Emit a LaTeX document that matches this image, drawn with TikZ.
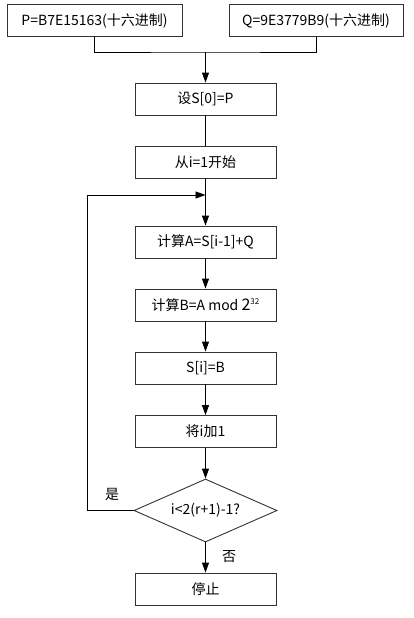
\documentclass[tikz,border=0pt]{standalone}
\usepackage{fontspec}
\setmainfont{Noto Sans CJK SC}
\usetikzlibrary{arrows.meta,shapes.geometric}
\begin{document}
\begin{tikzpicture}[x=1pt,y=-1pt,
  box/.style={draw=black!80,line width=0.9pt,minimum width=141pt,minimum height=32pt,inner sep=0pt,font=\fontsize{14}{16}\selectfont},
  dia/.style={draw=black!80,line width=0.9pt,diamond,aspect=2.27,minimum width=143pt,minimum height=63pt,inner sep=0pt,font=\fontsize{14}{16}\selectfont},
  conn/.style={line width=0.9pt,black},
  arr/.style={conn,-{Triangle[length=10pt,width=7pt]}},
  lbl/.style={font=\fontsize{14}{16}\selectfont}]
\useasboundingbox (0,0) rectangle (413,618);
\node[box,minimum width=175pt] (p) at (94.5,20.5) {P=B7E15163(十六进制)};
\node[box,minimum width=174pt] (q) at (316,20.5) {Q=9E3779B9(十六进制)};
\node[box] (s0) at (205.5,99) {设S[0]=P};
\node[box] (i1) at (205.5,162) {从i=1开始};
\node[box] (a) at (205.5,242) {计算A=S[i-1]+Q};
\node[box] (b) at (205.5,305) {计算B=A mod {\fontsize{16}{16}\selectfont 2}\raisebox{6pt}{\fontsize{8}{9}\selectfont 32}};
\node[box] (si) at (205.5,368) {S[i]=B};
\node[box] (inc) at (205.5,431.5) {将i加1};
\node[dia] (d) at (205.5,510.5) {i<2(r+1)-1?};
\node[box] (stop) at (205.5,589) {停止};
\coordinate (j) at (205.5,52);
\coordinate (m) at (205.5,195);
\coordinate (fl) at (87,195);
\node[lbl] (yes) at (112,494) {是};
\node[lbl] (no) at (229,557) {否};
\draw[conn] (p.south) |- (j) -| (q.south);
\draw[arr] (j) -- (s0.north);
\draw[conn] (s0.south) -- (i1.north);
\draw[arr] (i1.south) -- (a.north);
\draw[arr] (a.south) -- (b.north);
\draw[arr] (b.south) -- (si.north);
\draw[arr] (si.south) -- (inc.north);
\draw[arr] (inc.south) -- (d.north);
\draw[arr] (d.south) -- (stop.north);
\draw[arr] (d.west) -| (fl) -- (m);
\end{tikzpicture}
\end{document}
